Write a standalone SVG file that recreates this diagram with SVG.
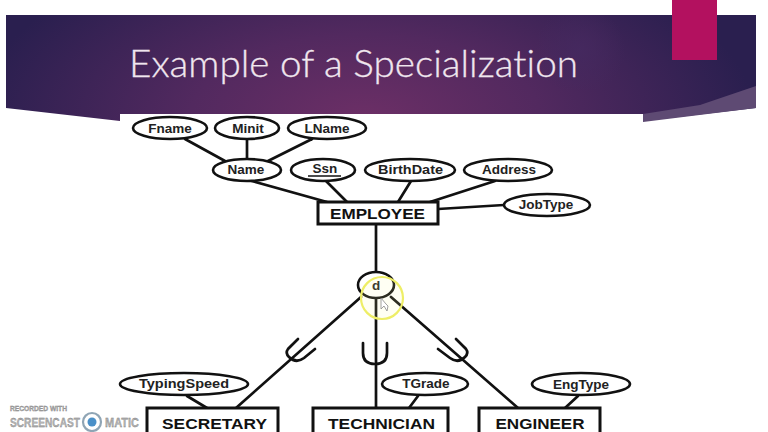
<svg xmlns="http://www.w3.org/2000/svg" width="768" height="432" viewBox="0 0 768 432">
<style>
.n{fill:#fff;stroke:#111;stroke-width:2.6}
.b{fill:#fff;stroke:#111;stroke-width:3}
.c line,.c path{fill:none;stroke:#111;stroke-width:2.7;stroke-linecap:round}
.a{font:bold 13.5px "Liberation Sans",Arial,sans-serif;fill:#222;text-anchor:middle}
.e{font:bold 15.5px "Liberation Sans",Arial,sans-serif;fill:#111;text-anchor:middle}
.w{font-family:"Liberation Sans",Arial,sans-serif;font-weight:bold;fill:#b5b5b5;stroke:#777;stroke-width:.3}
</style>
<defs>
<radialGradient id="g" gradientUnits="userSpaceOnUse" cx="365" cy="118" r="390" gradientTransform="translate(0 62) scale(1 .48)">
<stop offset="0" stop-color="#6c2f66"/><stop offset=".45" stop-color="#52295f"/><stop offset="1" stop-color="#2a1f4f"/>
</radialGradient>
<radialGradient id="h" gradientUnits="userSpaceOnUse" cx="580" cy="50" r="45">
<stop offset="0" stop-color="#45295f" stop-opacity=".9"/><stop offset="1" stop-color="#45295f" stop-opacity="0"/>
</radialGradient>
</defs>
<rect width="768" height="432" fill="#fff"/>
<g id="banner">
<polygon points="6,15 756,15 756,108 643,121 643,114 120,114 120,121 6,108" fill="url(#g)"/>
<rect x="535" y="15" width="90" height="75" fill="url(#h)"/>
<polygon points="643,114 700,105 756,86 756,108 643,122" fill="#5e4a73"/>
<rect x="672" y="0" width="45" height="60" fill="#b3115f"/>
<text x="129" y="77" font-family="Lato,'Liberation Sans',sans-serif" font-weight="300" font-size="37" fill="#f0e6ee" stroke="#f0e6ee" stroke-width=".3" style="font-variant-ligatures:none" textLength="449" lengthAdjust="spacingAndGlyphs">Example of a Specialization</text>
</g>
<g id="connectors" class="c">
<line x1="185" y1="139" x2="225" y2="161"/>
<line x1="247" y1="139" x2="247" y2="159"/>
<line x1="312" y1="139" x2="268" y2="161"/>
<line x1="252" y1="181" x2="327" y2="202"/>
<line x1="326" y1="181" x2="347" y2="202"/>
<line x1="411" y1="181" x2="398" y2="202"/>
<line x1="495" y1="181" x2="430" y2="202"/>
<line x1="438" y1="209" x2="504" y2="205"/>
<line x1="376" y1="224" x2="376" y2="272"/>
<line x1="361" y1="297" x2="236" y2="408"/>
<line x1="376" y1="298" x2="376" y2="408"/>
<line x1="391" y1="297" x2="518" y2="408"/>
<path d="M298,339 L288,349 Q285,353 289,357 Q296,364 304,358 L315,349"/>
<path d="M363,343 V353 Q363,364 375,364 Q387,364 387,353 V343"/>
<path d="M456,339 L466,349 Q469,353 465,357 Q458,364 450,358 L438,349"/>
<line x1="187" y1="396" x2="207" y2="408"/>
<line x1="418" y1="396" x2="409" y2="408"/>
<line x1="578" y1="396" x2="565" y2="408"/>
</g>
<g id="fname"><ellipse class="n" cx="170" cy="128" rx="37" ry="11"/><text class="a" x="170" y="133">Fname</text></g>
<g id="minit"><ellipse class="n" cx="247" cy="128" rx="32" ry="11"/><text class="a" x="248" y="133">Minit</text></g>
<g id="lname"><ellipse class="n" cx="327" cy="128" rx="39" ry="11"/><text class="a" x="327" y="133">LName</text></g>
<g id="name"><ellipse class="n" cx="247" cy="170" rx="34" ry="11"/><text class="a" x="246" y="174">Name</text></g>
<g id="ssn"><ellipse class="n" cx="323" cy="170" rx="32" ry="11"/><text class="a" x="325" y="173">Ssn</text><line x1="308" y1="176" x2="341" y2="176" stroke="#111" stroke-width="1.4"/></g>
<g id="birthdate"><ellipse class="n" cx="410" cy="170" rx="45" ry="11"/><text class="a" x="410.500" y="174" textLength="65" lengthAdjust="spacingAndGlyphs">BirthDate</text></g>
<g id="address"><ellipse class="n" cx="508" cy="170" rx="44" ry="11"/><text class="a" x="509" y="174">Address</text></g>
<g id="jobtype"><ellipse class="n" cx="547" cy="205" rx="43" ry="11"/><text class="a" x="546" y="209">JobType</text></g>
<g id="employee"><rect class="b" x="318" y="202" width="120" height="22"/><text class="e" x="377.500" y="219" textLength="95" lengthAdjust="spacingAndGlyphs">EMPLOYEE</text></g>
<g id="d"><ellipse class="n" cx="376" cy="285" rx="18" ry="13"/><text class="a" x="376" y="290" font-size="14">d</text></g>
<g id="typingspeed"><ellipse class="n" cx="184" cy="384" rx="64" ry="11"/><text class="a" x="184" y="388" textLength="90" lengthAdjust="spacingAndGlyphs">TypingSpeed</text></g>
<g id="tgrade"><ellipse class="n" cx="425" cy="384" rx="43" ry="11"/><text class="a" x="426" y="388">TGrade</text></g>
<g id="engtype"><ellipse class="n" cx="581" cy="384" rx="49" ry="11"/><text class="a" x="581" y="389">EngType</text></g>
<g id="secretary"><rect class="b" x="147" y="408" width="131" height="30"/><text class="e" x="214.500" y="429" textLength="105" lengthAdjust="spacingAndGlyphs">SECRETARY</text></g>
<g id="technician"><rect class="b" x="313" y="408" width="135" height="30"/><text class="e" x="381.500" y="429" textLength="107" lengthAdjust="spacingAndGlyphs">TECHNICIAN</text></g>
<g id="engineer"><rect class="b" x="479" y="408" width="121" height="30"/><text class="e" x="540" y="429" textLength="89" lengthAdjust="spacingAndGlyphs">ENGINEER</text></g>
<g id="pointer">
<circle cx="382" cy="298" r="21" fill="#ffffa0" fill-opacity=".12" stroke="#eeee66" stroke-width="2.2"/>
<path d="M381,298 V309 L384,306 L387,311 L388,306 L386,304 Z" fill="#fff" stroke="#888" stroke-width=".8"/>
</g>
<g id="watermark">
<text class="w" x="10" y="411" font-size="7" textLength="57" lengthAdjust="spacingAndGlyphs">RECORDED WITH</text>
<text class="w" x="10" y="427" font-size="12" textLength="70" lengthAdjust="spacingAndGlyphs">SCREENCAST</text>
<circle cx="92" cy="422" r="9" fill="#fff" stroke="#8fa5b5" stroke-width="2.2"/>
<circle cx="92" cy="422" r="4.5" fill="#4a90c8"/>
<text class="w" x="105" y="427" font-size="12" textLength="34" lengthAdjust="spacingAndGlyphs">MATIC</text>
</g>
</svg>
